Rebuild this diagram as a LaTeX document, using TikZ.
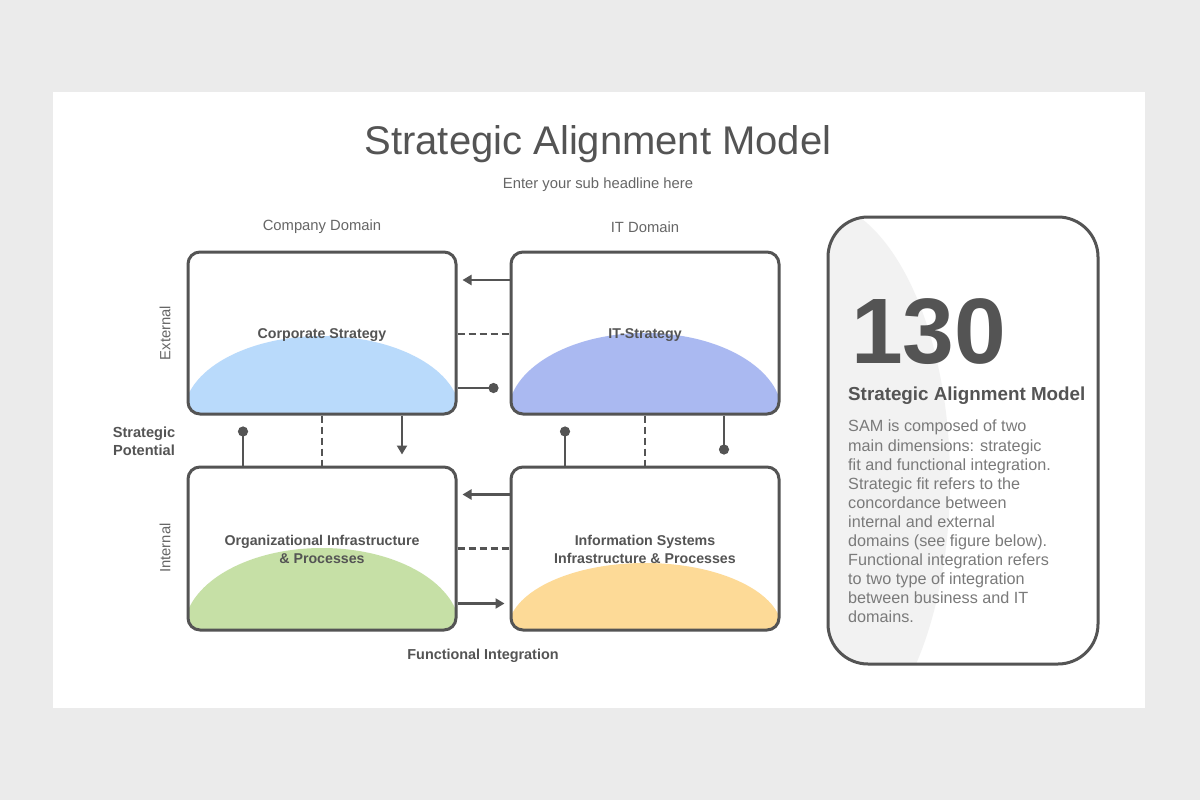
\documentclass[tikz,border=0pt]{standalone}
\usepackage{fontspec}
\setmainfont{Liberation Sans}
\usetikzlibrary{arrows.meta}
\definecolor{bg}{HTML}{EBEBEB}
\definecolor{ink}{HTML}{545454}
\definecolor{soft}{HTML}{666666}
\definecolor{body}{HTML}{7A7A7A}
\definecolor{cblue}{HTML}{B9DAFB}
\definecolor{cperi}{HTML}{AAB9F1}
\definecolor{cgreen}{HTML}{C6E0A6}
\definecolor{cyellow}{HTML}{FDDA97}
\definecolor{cshade}{HTML}{F2F2F2}
\tikzset{
  boxnode/.style={draw=ink, line width=3pt, rounded corners=12pt, minimum width=268pt, minimum height=162pt, inner sep=0pt},
  conn/.style={draw=ink, line width=2.6pt},
  dashconn/.style={draw=ink, line width=2.6pt, dash pattern=on 7pt off 4pt},
  arr/.style={conn, -{Triangle[length=9pt,width=10pt]}, shorten >=5pt},
  dotend/.style={conn, -{Circle[length=10pt]}, shorten >=11pt},
  domelabel/.style={font=\fontsize{14.2}{18}\selectfont\bfseries, text=ink, align=center},
  sidelabel/.style={font=\fontsize{14.8}{17}\selectfont, text=soft},
}
\begin{document}
\begin{tikzpicture}[x=1pt,y=-1pt]
\fill[bg] (0,0) rectangle (1200,800);
\path[use as bounding box] (0,0) rectangle (1200,800);
\fill[white] (53,92) rectangle (1145,708);

% title
\node[text=ink, font=\fontsize{40}{46}\selectfont] (title) at (598,144) {Strategic Alignment Model};
\node[text=soft, font=\fontsize{14.8}{17}\selectfont] (sub) at (598,185) {Enter your sub headline here};

% domes
\begin{scope}
\clip[rounded corners=12pt] (188,252) rectangle (456,414);
\fill[cblue] (322,414) ellipse [x radius=138, y radius=78];
\end{scope}
\begin{scope}
\clip[rounded corners=12pt] (512,252) rectangle (778,414);
\fill[cperi] (645,414) ellipse [x radius=137, y radius=81];
\end{scope}
\begin{scope}
\clip[rounded corners=12pt] (188,467) rectangle (456,630);
\fill[cgreen] (322,630) ellipse [x radius=138, y radius=82];
\end{scope}
\begin{scope}
\clip[rounded corners=12pt] (512,467) rectangle (778,630);
\fill[cyellow] (645,630) ellipse [x radius=137, y radius=67];
\end{scope}

% boxes
\node[boxnode] (tl) at (322,333) {};
\node[boxnode] (tr) at (645,333) {};
\node[boxnode, minimum height=163pt] (bl) at (322,548.5) {};
\node[boxnode, minimum height=163pt] (br) at (645,548.5) {};

\node[domelabel] (tlt) at (322,335) {Corporate Strategy};
\node[domelabel] (trt) at (645,335) {IT-Strategy};
\node[domelabel] (blt) at (322,549) {Organizational Infrastructure\\\& Processes};
\node[domelabel] (brt) at (645,549) {Information Systems\\Infrastructure \& Processes};

% horizontal connectors
\draw[arr] ([yshift=53pt]tr.west) -- ([yshift=53pt]tl.east);
\draw[dashconn] ([yshift=-1pt]tl.east) -- ([yshift=-1pt]tr.west);
\draw[dotend] ([yshift=-55pt]tl.east) -- ([yshift=-55pt]tr.west);
\draw[arr] ([yshift=54pt]br.west) -- ([yshift=54pt]bl.east);
\draw[dashconn] ([yshift=0pt]bl.east) -- ([yshift=0pt]br.west);
\draw[arr] ([yshift=-55pt]bl.east) -- ([yshift=-55pt]br.west);

% vertical connectors
\draw[dotend] ([xshift=-79pt]bl.north) -- ([xshift=-79pt]tl.south);
\draw[dashconn] (tl.south) -- (bl.north);
\draw[arr, shorten >=11pt] ([xshift=80pt]tl.south) -- ([xshift=80pt]bl.north);
\draw[dotend] ([xshift=-80pt]br.north) -- ([xshift=-80pt]tr.south);
\draw[dashconn] (tr.south) -- (br.north);
\draw[dotend] ([xshift=79pt]tr.south) -- ([xshift=79pt]br.north);

% side labels
\node[sidelabel] (cd) at (322,227) {Company Domain};
\node[sidelabel] (itd) at (645,227) {IT Domain};
\node[sidelabel, rotate=90] (ext) at (165,333) {External};
\node[sidelabel, rotate=90] (int) at (165,548) {Internal};
\node[domelabel, font=\fontsize{14.6}{18}\selectfont\bfseries] (sp) at (144,441) {Strategic\\Potential};
\node[domelabel, font=\fontsize{14.4}{18}\selectfont\bfseries] (fi) at (483,656) {Functional Integration};

% card
\begin{scope}
\clip[rounded corners=40pt] (828,217) rectangle (1098,664);
\fill[cshade] (812,480) ellipse [x radius=138, y radius=280];
\end{scope}
\node[draw=ink, line width=3pt, rounded corners=40pt, minimum width=270pt, minimum height=447pt, inner sep=0pt] (card) at (963,440.5) {};
\node[anchor=base west, inner sep=0pt, text=ink, font=\fontsize{93}{93}\selectfont\bfseries] (num) at (851,363) {130};
\node[anchor=base west, inner sep=0pt, text=ink, font=\fontsize{18.8}{22}\selectfont\bfseries] (ct) at (848,400) {Strategic Alignment Model};
\node[anchor=north west, inner sep=0pt, text=body, align=left, font=\fontsize{16.2}{19.1}\selectfont] (cb) at (848,420) {SAM is composed of two\\main dimensions: strategic\\fit and functional integration.\\Strategic fit refers to the\\concordance between\\internal and external\\domains (see figure below).\\Functional integration refers\\to two type of integration\\between business and IT\\domains.};
\end{tikzpicture}
\end{document}
